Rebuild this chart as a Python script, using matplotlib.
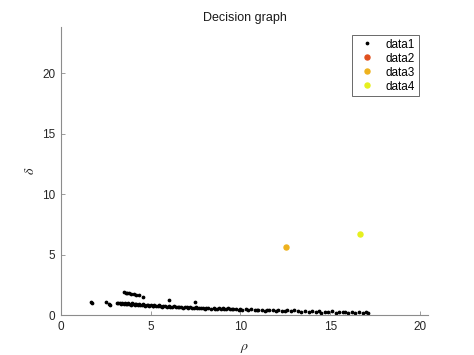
import matplotlib
matplotlib.use("Agg")
import matplotlib.pyplot as plt

# ------------------------------------------------------------------
# Data
# ------------------------------------------------------------------
# data1: main band of points
rho_band = [3.1, 3.2, 3.3, 3.35, 3.4, 3.5, 3.55, 3.6, 3.7, 3.75, 3.8, 3.9, 3.95,
            4.0, 4.1, 4.15, 4.2, 4.3, 4.35, 4.4, 4.5, 4.55, 4.6, 4.7, 4.8, 4.85,
            4.9, 5.0, 5.1, 5.15, 5.2, 5.3, 5.4, 5.45, 5.5, 5.6, 5.7, 5.8, 5.9,
            6.0, 6.1, 6.2, 6.3, 6.4, 6.5, 6.6, 6.7, 6.8, 6.9, 7.0, 7.1, 7.2,
            7.3, 7.4, 7.5, 7.6, 7.7, 7.8, 7.9, 8.0, 8.1, 8.2, 8.35, 8.5, 8.6,
            8.7, 8.8, 8.9, 9.0, 9.1, 9.2, 9.3, 9.4, 9.5, 9.6, 9.75, 9.9, 10.0,
            10.1, 10.3, 10.4, 10.6, 10.8, 10.9, 11.0, 11.2, 11.35, 11.5, 11.6,
            11.8, 12.0, 12.1, 12.3, 12.5, 12.6, 12.8, 13.0, 13.2, 13.4, 13.6,
            13.8, 14.0, 14.2, 14.4, 14.5, 14.7, 14.9, 15.1, 15.3, 15.5, 15.7,
            15.8, 16.0, 16.2, 16.4, 16.6, 16.8, 17.0, 17.1]
delta_band = [1.02, 0.98, 1.05, 0.95, 1.0, 0.92, 1.03, 0.97, 0.9, 1.0, 0.94, 0.88, 0.98,
              0.92, 0.86, 0.95, 0.9, 0.84, 0.93, 0.88, 0.82, 0.9, 0.86, 0.8, 0.88, 0.83,
              0.78, 0.85, 0.8, 0.76, 0.83, 0.78, 0.74, 0.81, 0.77, 0.72, 0.79, 0.74, 0.7,
              0.77, 0.72, 0.68, 0.75, 0.7, 0.66, 0.72, 0.68, 0.64, 0.7, 0.66, 0.62, 0.68,
              0.64, 0.6, 0.66, 0.62, 0.58, 0.64, 0.6, 0.56, 0.62, 0.58, 0.54, 0.6, 0.55,
              0.5, 0.57, 0.52, 0.6, 0.5, 0.55, 0.62, 0.48, 0.53, 0.5, 0.56, 0.46, 0.52,
              0.44, 0.5, 0.42, 0.48, 0.44, 0.4, 0.47, 0.42, 0.38, 0.45, 0.4,
              0.43, 0.37, 0.42, 0.39, 0.34, 0.41, 0.36, 0.4, 0.33, 0.3, 0.36,
              0.24, 0.32, 0.27, 0.35, 0.22, 0.3, 0.26, 0.33, 0.2, 0.28, 0.24,
              0.3, 0.22, 0.27, 0.23, 0.28, 0.22, 0.25, 0.2]

# data1: upper branch and stray points
rho_extra = [3.5, 3.6, 3.7, 3.8, 3.9, 4.05, 4.2, 4.35, 4.55,
             1.68, 1.75, 2.5, 2.65, 2.75, 6.03, 7.49]
delta_extra = [1.92, 1.88, 1.85, 1.83, 1.78, 1.72, 1.68, 1.64, 1.55,
               1.1, 1.05, 1.1, 0.95, 0.88, 1.23, 1.1]

# cluster centres
rho2, delta2 = [], []
rho3, delta3 = [12.51], [5.6]
rho4, delta4 = [16.65], [6.75]

# ------------------------------------------------------------------
# Plot
# ------------------------------------------------------------------
plt.rcParams["font.family"] = ["Liberation Sans", "DejaVu Sans"]
plt.rcParams["mathtext.fontset"] = "stix"

fig = plt.figure(figsize=(4.74, 3.55), dpi=100)
ax = fig.add_axes([0.1287, 0.1118, 0.7743, 0.8122])

ax.plot(rho_band + rho_extra, delta_band + delta_extra, ".", color="black",
        markersize=3.4, label="data1")
ax.plot(rho2, delta2, "o", color="#e0501e", markersize=3.6, label="data2")
ax.plot(rho3, delta3, "o", color="#eeb21e", markersize=3.6, label="data3")
ax.plot(rho4, delta4, "o", color="#e6f01e", markersize=3.6, label="data4")

ax.set_xlim(0, 20.45)
ax.set_ylim(0, 23.8)
ax.set_xticks([0, 5, 10, 15, 20])
ax.set_yticks([0, 5, 10, 15, 20])

for side in ["top", "right"]:
    ax.spines[side].set_visible(False)
for side in ["left", "bottom"]:
    ax.spines[side].set_color("#8c8c8c")
    ax.spines[side].set_linewidth(0.8)
ax.tick_params(direction="in", length=3, width=0.6, color="#8c8c8c",
               labelsize=8.5, labelcolor="#262626", pad=4)

ax.set_title("Decision graph", fontsize=9, color="#1a1a1a", pad=4)
ax.set_xlabel(r"$\rho$", fontsize=10, color="#262626", labelpad=6)
ax.set_ylabel(r"$\delta$", fontsize=10, color="#262626")

leg = ax.legend(loc="upper right", bbox_to_anchor=(0.975, 0.972),
                borderaxespad=0, fancybox=False, fontsize=8.5,
                handlelength=2.0, handletextpad=0.6, labelspacing=0.17,
                borderpad=0.3)
leg.get_frame().set_edgecolor("#262626")
leg.get_frame().set_linewidth(0.6)

plt.savefig("out.png", dpi=100)
